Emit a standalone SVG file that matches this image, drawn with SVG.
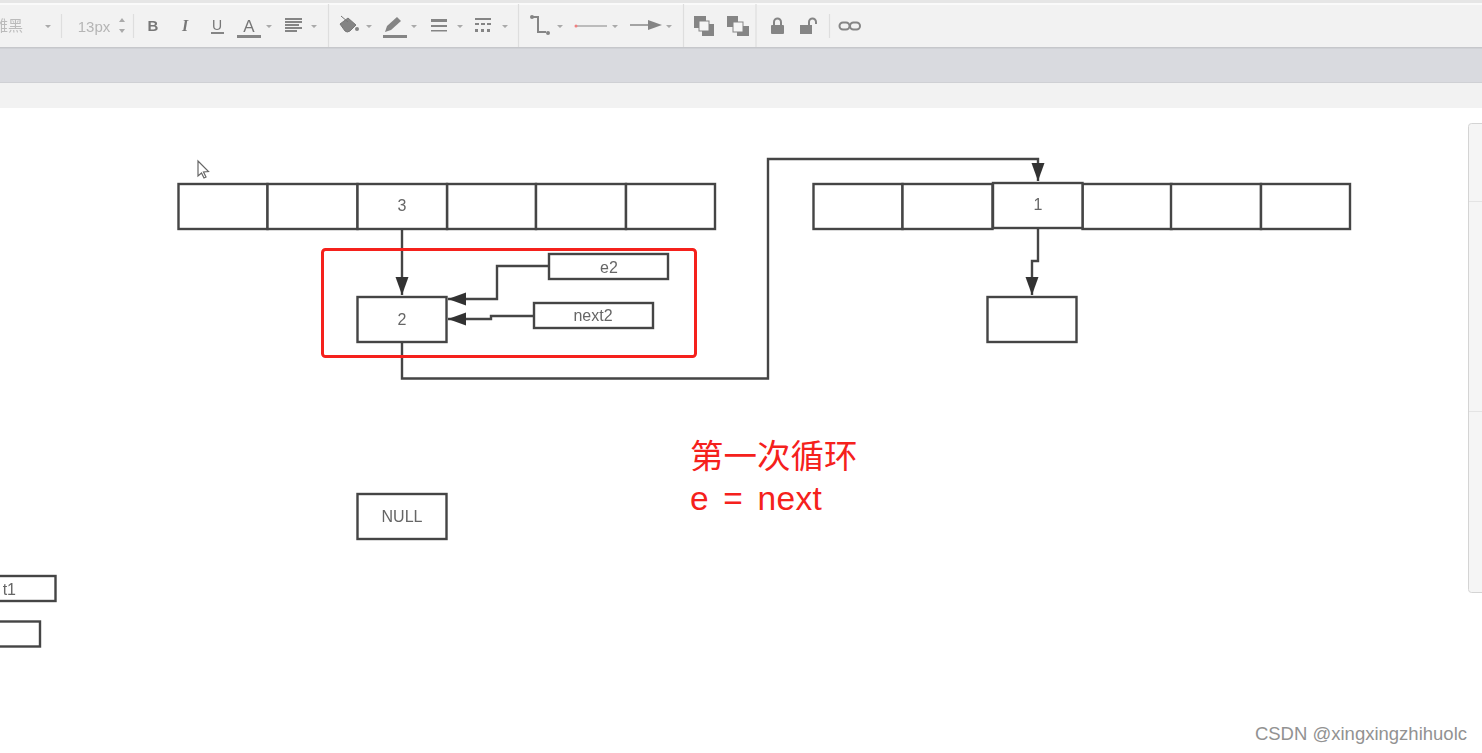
<svg xmlns="http://www.w3.org/2000/svg" width="1482" height="753" viewBox="0 0 1482 753">
<style>
.c{fill:#fff;stroke:#444;stroke-width:2.4}
.l{fill:none;stroke:#444;stroke-width:2.4}
.t{font-family:"Liberation Sans",Arial,sans-serif;font-size:16px;fill:#666;text-anchor:middle}
.i{fill:#858585}
.is{fill:none;stroke:#858585;stroke-width:2}
.a{fill:#aaa}
.s{stroke:#dedede;stroke-width:1.2}
.r{font-size:33.500px;fill:#f5211c}
</style>
<defs>
<marker id="ah" markerUnits="userSpaceOnUse" markerWidth="19" markerHeight="14" refX="18" refY="6.500" orient="auto"><path d="M0 0L18 6.500L0 13Z" fill="#333"/></marker>
<filter id="soft" x="-2%" y="-2%" width="104%" height="104%"><feGaussianBlur stdDeviation="0.5"/></filter>
</defs>
<rect width="1482" height="753" fill="#fff"/>
<g filter="url(#soft)">
<g id="toolbar">
<rect width="1482" height="108" fill="#f2f2f2"/>
<rect y="0" width="1482" height="3" fill="#e6e6e6"/>
<rect y="3" width="1482" height="2" fill="#fafafa"/>
<rect y="47" width="1482" height="36" fill="#d9dadf"/>
<rect y="47" width="1482" height="1.500" fill="#c6c7cb"/>
<rect y="82" width="1482" height="1" fill="#cfd0d4"/>
<g class="s"><path d="M61.500 14V38M133.500 14V38M328.500 4V47M518.500 4V47M683.500 4V47M756 4V47M829.500 14V38"/></g>
<text x="-7" y="31" font-family="Noto Sans CJK SC,sans-serif" font-size="15" fill="#bbb">雅黑</text>
<text x="94" y="32" font-family="Liberation Sans,sans-serif" font-size="15" fill="#b5b5b5" text-anchor="middle">13px</text>
<path class="a" d="M45 25h6l-3 3zM119 22l3-4 3 4zM119 29h6l-3 4zM266 25h6l-3 3zM311 25h6l-3 3zM366 25h6l-3 3zM411 25h6l-3 3zM457 25h6l-3 3zM502 25h6l-3 3zM557 25h6l-3 3zM612 25h6l-3 3zM666 25h6l-3 3z"/>
<text x="153" y="31" font-family="Liberation Sans,sans-serif" font-size="15" font-weight="bold" fill="#777" text-anchor="middle">B</text>
<text x="185" y="31" font-family="Liberation Serif,serif" font-size="16" font-weight="bold" font-style="italic" fill="#777" text-anchor="middle">I</text>
<text x="217" y="30" font-family="Liberation Sans,sans-serif" font-size="14" fill="#777" text-anchor="middle">U</text>
<rect x="211" y="32" width="13" height="2" class="i"/>
<text x="249" y="32" font-family="Liberation Sans,sans-serif" font-size="17" fill="#777" text-anchor="middle">A</text>
<rect x="237" y="35" width="24" height="3" class="i"/>
<path class="is" stroke-width="1.500" d="M285 19h17M285 22h17M285 25h14M285 28h17M285 31h12"/>
<path class="i" d="M340 24l8-6 8 7-6 6q-3 2-5 0zM341 16l7 6" stroke="#777"/>
<circle cx="357" cy="29" r="2" class="i"/>
<path class="i" d="M385 32l2-6 10-9 4 4-10 9z"/>
<rect x="383" y="35" width="24" height="3" class="i"/>
<path class="i" d="M431 19h16v3h-16zM431 25h16v2h-16zM431 30h16v1.500h-16z"/>
<path class="i" d="M475 18h16v2h-16zM475 23h4v2h-4zM481 23h4v2h-4zM487 23h4v2h-4zM475 29h3v3h-3zM481 29h3v3h-3zM487 29h3v3h-3z"/>
<path class="is" stroke-width="1.800" d="M532 17h6v15h8"/>
<circle cx="532" cy="17" r="2" class="i"/><circle cx="548" cy="33" r="2" class="i"/>
<path stroke="#aaa" stroke-width="1.500" d="M576 26h31"/><circle cx="576" cy="26" r="1.500" fill="#f08080"/>
<path stroke="#888" stroke-width="1.500" d="M630 25h18"/><path class="i" d="M648 20l14 5-14 5z"/>
<path class="i" d="M694 16h12v12h-12zM702 24h12v12h-12z"/><rect x="699" y="21" width="10" height="10" fill="#f5f5f5" stroke="#858585"/>
<path class="i" d="M727 16h11v11h-11zM737 26h12v10h-12z"/><rect x="733" y="22" width="10" height="10" fill="#f5f5f5" stroke="#858585"/>
<rect x="771" y="25" width="13" height="9" rx="1" class="i"/><path class="is" stroke-width="2.500" d="M774 25v-3a3.500 3.500 0 0 1 7 0v3"/>
<rect x="800" y="25" width="12" height="9" class="i"/><path class="is" stroke-width="2.500" d="M809 25v-3a3.500 3.500 0 0 1 7 0v2"/>
<rect x="839.500" y="22.500" width="10" height="7" rx="3.500" class="is"/><rect x="850" y="22.500" width="10" height="7" rx="3.500" class="is"/>
</g>
<g id="side-panel">
<rect x="1468.500" y="123.500" width="20" height="469" rx="3" fill="#f5f5f5" stroke="#d4d4d4"/>
<path stroke="#e4e4e4" d="M1469 201.500h13M1469 411.500h13"/>
</g>
<path id="cursor" d="M198 161v15l3.500-3 2.500 5 2-1-2.500-5 5-.5z" fill="#fff" stroke="#666" stroke-width="1.200"/>
<g id="connectors" class="l">
<path class="l" d="M402 229V295" marker-end="url(#ah)"/>
<path class="l" d="M549 266H497V299H448" marker-end="url(#ah)"/>
<path class="l" d="M534 316H491V319H448" marker-end="url(#ah)"/>
<path class="l" d="M402 342V378.500H768V159H1038V181" marker-end="url(#ah)"/>
<path class="l" d="M1038 229V261H1032V295" marker-end="url(#ah)"/>
</g>
<g id="array-left">
<rect class="c" x="178.500" y="184" width="89" height="45"/>
<rect class="c" x="267.500" y="184" width="90" height="45"/>
<rect class="c" x="447" y="184" width="89" height="45"/>
<rect class="c" x="536" y="184" width="90" height="45"/>
<rect class="c" x="626" y="184" width="89" height="45"/>
<rect class="c" x="357.500" y="184" width="89.500" height="45"/>
<text class="t" x="402" y="211">3</text>
</g>
<g id="array-right">
<rect class="c" x="813.500" y="184" width="89" height="45"/>
<rect class="c" x="902.500" y="184" width="90" height="45"/>
<rect class="c" x="1082.500" y="184" width="89" height="45"/>
<rect class="c" x="1171" y="184" width="90" height="45"/>
<rect class="c" x="1261" y="184" width="89" height="45"/>
<rect class="c" x="993" y="183" width="89.500" height="45"/>
<text class="t" x="1038" y="210">1</text>
</g>
<g id="node-2"><rect class="c" x="357.500" y="297" width="89" height="45"/><text class="t" x="402" y="325">2</text></g>
<g id="node-e2"><rect class="c" x="549" y="254" width="119" height="25"/><text class="t" x="609" y="273">e2</text></g>
<g id="node-next2"><rect class="c" x="534" y="303" width="119" height="25"/><text class="t" x="593" y="321">next2</text></g>
<g id="node-right"><rect class="c" x="987.500" y="297" width="89" height="45"/></g>
<g id="node-null"><rect class="c" x="357.500" y="494" width="89" height="45"/><text class="t" x="402" y="522">NULL</text></g>
<g id="node-next1"><rect class="c" x="-60" y="576" width="115.500" height="25"/><text x="16" y="595" font-family="Liberation Sans,sans-serif" font-size="16" fill="#666" text-anchor="end">t1</text></g>
<g id="node-e1"><rect class="c" x="-60" y="621.500" width="100" height="25"/></g>
</g>
<rect id="highlight" x="322.500" y="249.500" width="373" height="107" rx="3" fill="none" stroke="#f5211c" stroke-width="3"/>
<g id="caption">
<text class="r" font-family="Noto Sans CJK SC,sans-serif" x="690" y="468">第一次循环</text>
<text class="r" font-family="Liberation Sans,sans-serif" x="690" y="510" word-spacing="4.500" letter-spacing="0.400">e = next</text>
</g>
<text id="watermark" x="1467" y="740" font-family="Liberation Sans,sans-serif" font-size="18.500" fill="#929292" text-anchor="end">CSDN @xingxingzhihuolc</text>
</svg>
